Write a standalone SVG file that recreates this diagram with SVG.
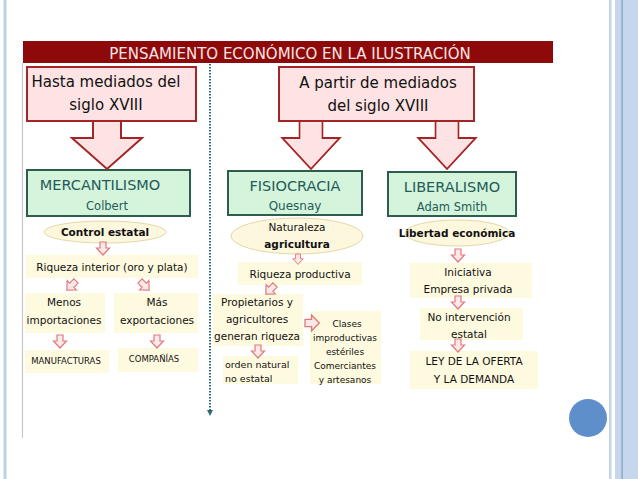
<svg xmlns="http://www.w3.org/2000/svg" width="638" height="479" viewBox="0 0 638 479">
<defs>
<style>
text{font-family:"DejaVu Sans","Liberation Sans",sans-serif;text-anchor:middle;fill:#111}
.pink{fill:#fde3e3;stroke:#a32626;stroke-width:2}
.green{fill:#d4f4dc;stroke:#2e5c4e;stroke-width:2}
.gt{fill:#245a58}
.ell{fill:#fdf7de;stroke:#e2d9a8;stroke-width:1}
.yel{fill:#fefadf}
.big{font-size:15px}
.sm{font-size:10.5px}
.b{font-weight:bold}
.sa{fill:#fde8e8;stroke:#e07a7a;stroke-width:1.2}
</style>
<path id="da" d="M-3,0 h6 v6 h3.5 l-6.5,7 l-6.5,-7 h3.5 z"/>
<path id="ba" d="M-14,0 h28 v17 h21 l-35,31 l-35,-31 h21 z"/>
</defs>
<rect width="638" height="479" fill="#fff"/>
<g id="frame">
<rect x="3.5" y="0" width="3" height="479" fill="#bcd0e8"/>
<rect x="609" y="0" width="2.5" height="479" fill="#c4d3e6"/>
<rect x="615" y="0" width="23" height="479" fill="#c6d6ec"/>
<rect x="621.5" y="0" width="1.2" height="479" fill="#7f9ec8"/>
<line x1="22.5" y1="63" x2="22.5" y2="438" stroke="#c8c8c8" stroke-width="1.2"/>
</g>
<g id="title">
<rect x="23" y="41" width="530" height="22" fill="#8e0a0a"/>
<text x="290" y="58.5" style="font-size:15px;fill:#f7e4e4">PENSAMIENTO ECONÓMICO EN LA ILUSTRACIÓN</text>
</g>
<g id="n-hasta">
<rect x="27" y="67" width="169" height="54" class="pink"/>
<text x="106" y="87" class="big">Hasta mediados del</text>
<text x="106" y="110" class="big">siglo XVIII</text>
</g>
<g id="n-apartir">
<rect x="279" y="67" width="195" height="54" class="pink"/>
<text x="378" y="88" class="big">A partir de mediados</text>
<text x="378" y="111" class="big">del siglo XVIII</text>
</g>
<g id="n-mercantilismo">
<rect x="27" y="170" width="163" height="46" class="green"/>
<text x="100" y="190" class="gt" style="font-size:14.5px">MERCANTILISMO</text>
<text x="107" y="210" class="gt" style="font-size:11.5px">Colbert</text>
</g>
<g id="n-control">
<ellipse cx="105" cy="232" rx="61" ry="11" class="ell"/>
<text x="105" y="236" class="sm b">Control estatal</text>
</g>
<g id="n-riqueza-int">
<rect x="26" y="255" width="172" height="23" class="yel"/>
<text x="112" y="271" class="sm">Riqueza interior (oro y plata)</text>
</g>
<g id="n-menos">
<rect x="25" y="293" width="80" height="40" class="yel"/>
<text x="64" y="306" class="sm">Menos</text>
<text x="64" y="324" class="sm">importaciones</text>
</g>
<g id="n-mas">
<rect x="114" y="293" width="84" height="40" class="yel"/>
<text x="157" y="306" class="sm">Más</text>
<text x="157" y="324" class="sm">exportaciones</text>
</g>
<g id="n-manufacturas">
<rect x="25" y="350" width="84" height="23" class="yel"/>
<text x="66" y="364" style="font-size:8.5px">MANUFACTURAS</text>
</g>
<g id="n-companias">
<rect x="118" y="348" width="80" height="24" class="yel"/>
<text x="154" y="362" style="font-size:8.5px">COMPAÑÍAS</text>
</g>
<g id="n-fisiocracia">
<rect x="228" y="171" width="134" height="44" class="green"/>
<text x="295" y="191" class="gt" style="font-size:14.5px">FISIOCRACIA</text>
<text x="295" y="210" class="gt" style="font-size:12px">Quesnay</text>
</g>
<g id="n-naturaleza">
<ellipse cx="297" cy="236" rx="66" ry="18" class="ell"/>
<text x="297" y="231" class="sm">Naturaleza</text>
<text x="297" y="248" class="sm b">agricultura</text>
</g>
<g id="n-riqueza-prod">
<rect x="238" y="262" width="124" height="23" class="yel"/>
<text x="300" y="278" class="sm">Riqueza productiva</text>
</g>
<g id="n-propietarios">
<rect x="213" y="294" width="90" height="52" class="yel"/>
<text x="257" y="306" class="sm">Propietarios y</text>
<text x="257" y="323" class="sm">agricultores</text>
<text x="257" y="340" class="sm">generan riqueza</text>
</g>
<g id="n-clases">
<rect x="310" y="311" width="71" height="73" class="yel"/>
<text x="347" y="327" style="font-size:9px">Clases</text>
<text x="345" y="341" style="font-size:9px">improductivas</text>
<text x="345" y="355" style="font-size:9px">estériles</text>
<text x="345" y="369" style="font-size:9px">Comerciantes</text>
<text x="345" y="383" style="font-size:9px">y artesanos</text>
</g>
<g id="n-orden">
<rect x="223" y="356" width="75" height="28" class="yel"/>
<text x="225" y="368" style="font-size:9.5px;text-anchor:start">orden natural</text>
<text x="225" y="382" style="font-size:9.5px;text-anchor:start">no estatal</text>
</g>
<g id="n-liberalismo">
<rect x="388" y="172" width="128" height="44" class="green"/>
<text x="452" y="192" class="gt" style="font-size:14.5px">LIBERALISMO</text>
<text x="452" y="211" class="gt" style="font-size:11.5px">Adam Smith</text>
</g>
<g id="n-libertad">
<ellipse cx="457" cy="233" rx="52" ry="13" class="ell"/>
<text x="457" y="237" class="sm b">Libertad económica</text>
</g>
<g id="n-iniciativa">
<rect x="410" y="263" width="122" height="35" class="yel"/>
<text x="468" y="276" class="sm">Iniciativa</text>
<text x="468" y="293" class="sm">Empresa privada</text>
</g>
<g id="n-nointerv">
<rect x="420" y="308" width="103" height="32" class="yel"/>
<text x="469" y="321" class="sm">No intervención</text>
<text x="469" y="338" class="sm">estatal</text>
</g>
<g id="n-ley">
<rect x="410" y="351" width="128" height="38" class="yel"/>
<text x="474" y="365" class="sm">LEY DE LA OFERTA</text>
<text x="474" y="383" class="sm">Y LA DEMANDA</text>
</g>
<circle cx="588" cy="418" r="19" fill="#5f8fca"/>
<g id="connectors">
<line x1="210" y1="64" x2="210" y2="412" stroke="#2e6a78" stroke-width="2" stroke-dasharray="1.5,1.5"/>
<path d="M207,410 l3,6 l3,-6 z" fill="#2e6a78"/>
<use href="#ba" class="pink" transform="translate(107,121)"/>
<use href="#ba" class="pink" transform="translate(311,121) scale(0.82,1)"/>
<use href="#ba" class="pink" transform="translate(447,121) scale(0.82,1)"/>
<use href="#da" class="sa" transform="translate(103,242)"/>
<use href="#da" class="sa" transform="translate(76,281) rotate(45)"/>
<use href="#da" class="sa" transform="translate(140,281) rotate(-45)"/>
<use href="#da" class="sa" transform="translate(60,335)"/>
<use href="#da" class="sa" transform="translate(157,335)"/>
<use href="#da" class="sa" transform="translate(298,254) scale(0.8)"/>
<use href="#da" class="sa" transform="translate(275,285) rotate(45)"/>
<use href="#da" class="sa" transform="translate(305,323) rotate(-90) scale(1.2,1.1)"/>
<use href="#da" class="sa" transform="translate(258,345)"/>
<use href="#da" class="sa" transform="translate(458,249)"/>
<use href="#da" class="sa" transform="translate(458,296)"/>
<use href="#da" class="sa" transform="translate(458,339)"/>
</g>
</svg>
